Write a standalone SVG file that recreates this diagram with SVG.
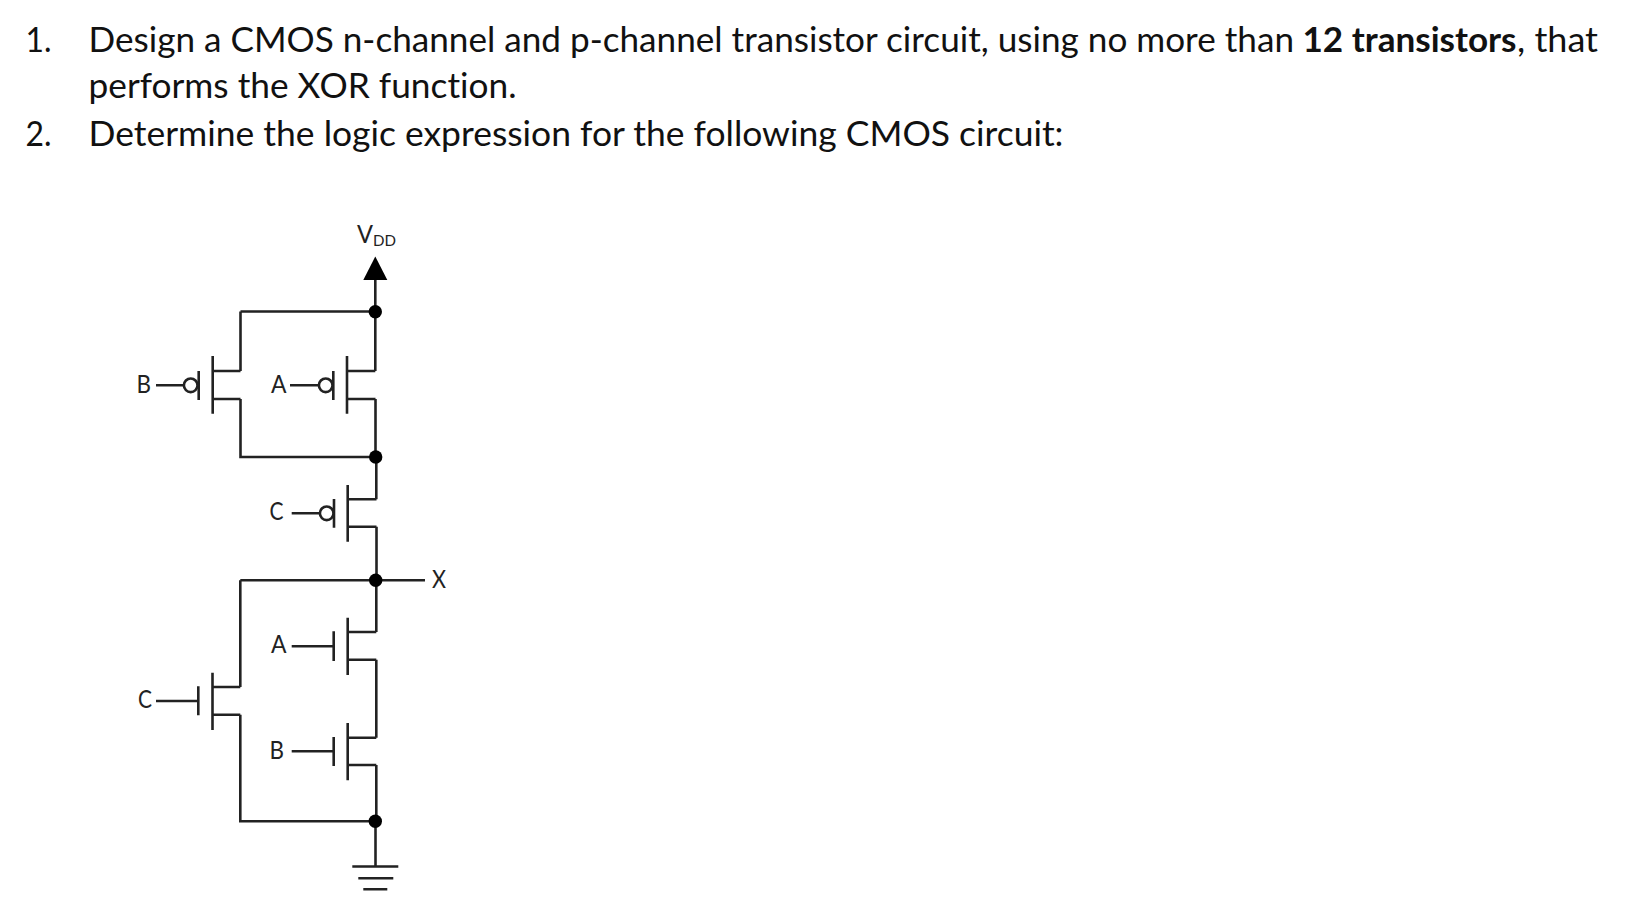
<svg xmlns="http://www.w3.org/2000/svg" width="1630" height="903" viewBox="0 0 1630 903">
<style>
text{font-family:"Lato","Open Sans","Liberation Sans",sans-serif;fill:#111;font-variant-ligatures:none}
.q{font-size:34px}
.b{font-weight:700}
.l{font-size:25px;fill:#222}
.s{font-size:16px;fill:#222}
.w{fill:none;stroke:#222;stroke-width:2.6}
.d{fill:#000}
</style>
<rect width="1630" height="903" fill="#fff"/>
<g id="question">
<text class="q" x="25.5" y="52" textLength="26" lengthAdjust="spacingAndGlyphs">1.</text>
<text class="q" x="88.5" y="52" textLength="1205.5" lengthAdjust="spacingAndGlyphs">Design a CMOS n-channel and p-channel transistor circuit, using no more than</text>
<text class="q b" x="1302.5" y="52" textLength="214" lengthAdjust="spacingAndGlyphs">12 transistors</text>
<text class="q" x="1517" y="52" textLength="81" lengthAdjust="spacingAndGlyphs">, that</text>
<text class="q" x="88.5" y="98" textLength="428" lengthAdjust="spacingAndGlyphs">performs the XOR function.</text>
<text class="q" x="25.5" y="145.5" textLength="26" lengthAdjust="spacingAndGlyphs">2.</text>
<text class="q" x="88.5" y="145.5" textLength="975" lengthAdjust="spacingAndGlyphs">Determine the logic expression for the following CMOS circuit:</text>
</g>
<g transform="translate(0,1)">
<g id="connectors" class="w">
<path d="M375.3 279V310.5M240.5 310.5H375.3M240.5 310.5V370M240.5 398V456H375.6"/>
<path d="M375.3 310.5V370M375.5 398V456"/>
<path d="M376.3 456V498.3M376.5 525.7V579.3"/>
<path d="M240.3 579.3H425M240.3 579.3V686M240.3 713.7V820.3H375.5"/>
<path d="M376.3 579.3V631M376.3 658.7V736.7M376.3 764V820.3"/>
<path d="M375.5 820.3V865.5"/>
</g>
<g id="vdd">
<path class="d" d="M375.3 255.5L387.3 279H363.3Z"/>
<text class="l" x="357" y="241.5" textLength="16" lengthAdjust="spacingAndGlyphs">V</text>
<text class="s" x="373" y="244.7" textLength="23" lengthAdjust="spacingAndGlyphs">DD</text>
</g>
<g id="dot-vdd"><circle class="d" cx="375.3" cy="310.7" r="6.7"/></g>
<g id="dot-mid"><circle class="d" cx="375.7" cy="456" r="6.7"/></g>
<g id="dot-x"><circle class="d" cx="375.7" cy="579.3" r="6.7"/></g>
<g id="dot-gnd"><circle class="d" cx="375.3" cy="820.3" r="6.7"/></g>
<g id="pmos-b">
<path class="w" d="M212.7 355V412.7M212.7 370H240.5M212.7 398H240.5M198.7 370V399M156 384.3H183.7"/>
<circle class="w" cx="190.7" cy="384.3" r="6.8"/>
<text class="l" x="136.5" y="392" textLength="14.5" lengthAdjust="spacingAndGlyphs">B</text>
</g>
<g id="pmos-a">
<path class="w" d="M347 355V412.7M347 370H375.3M347 398H375.5M333.3 370V399M290 384.3H318.7"/>
<circle class="w" cx="325.7" cy="384.3" r="6.8"/>
<text class="l" x="271" y="392" textLength="15.5" lengthAdjust="spacingAndGlyphs">A</text>
</g>
<g id="pmos-c">
<path class="w" d="M347.7 484V540.7M347.7 498.3H376.5M347.7 525.7H376.5M334 498V526.7M291.7 512.3H319.7"/>
<circle class="w" cx="326.7" cy="512.3" r="6.8"/>
<text class="l" x="269.5" y="518.5" textLength="14" lengthAdjust="spacingAndGlyphs">C</text>
</g>
<g id="nmos-c">
<path class="w" d="M212.5 671.7V729M212.5 686H240.3M212.5 713.7H240.3M198.3 685.3V714.3M156 700H198.3"/>
<text class="l" x="138" y="706.7" textLength="14" lengthAdjust="spacingAndGlyphs">C</text>
</g>
<g id="nmos-a">
<path class="w" d="M347.7 616.7V674M347.7 631H376.3M347.7 658.7H376.3M333.7 630.3V660M291.7 645.3H333.7"/>
<text class="l" x="271" y="652.3" textLength="15.5" lengthAdjust="spacingAndGlyphs">A</text>
</g>
<g id="nmos-b">
<path class="w" d="M347.7 722V779.3M347.7 736.7H376.3M347.7 764H376.3M333.7 736V765M291.7 750.3H333.7"/>
<text class="l" x="269.5" y="758.3" textLength="14.5" lengthAdjust="spacingAndGlyphs">B</text>
</g>
<g id="output-x">
<text class="l" x="432" y="586.7" textLength="14" lengthAdjust="spacingAndGlyphs">X</text>
</g>
<g id="ground">
<path class="w" d="M352.3 865.5H398.3M358.3 877.2H393.3M363.3 888.2H387.3"/>
</g>
</g>
</svg>
